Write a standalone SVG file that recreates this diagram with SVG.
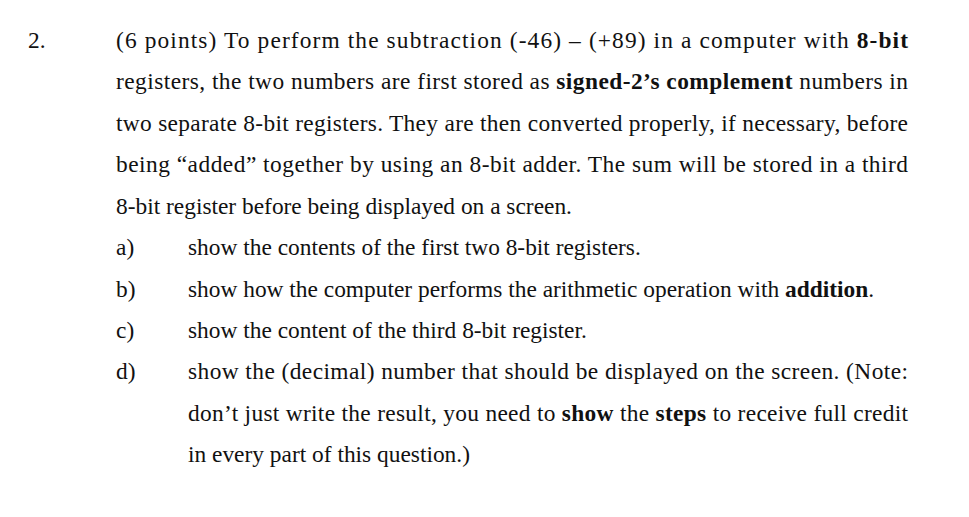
<svg xmlns="http://www.w3.org/2000/svg" width="969" height="517" viewBox="0 0 969 517">
<style>
text{font-family:"Liberation Serif","Times New Roman",serif;font-size:23.4px;fill:#111}
.b{font-weight:bold}
</style>
<rect width="969" height="517" fill="#fff"/>
<g id="question">
<text x="28" y="48">2.</text>
<text x="116" y="48" textLength="792" lengthAdjust="spacing">(6 points)  To perform the subtraction (-46) – (+89) in a computer with <tspan class="b">8-bit</tspan></text>
<text x="116" y="89" textLength="792" lengthAdjust="spacing">registers, the two numbers are first stored as <tspan class="b">signed-2’s complement</tspan> numbers in</text>
<text x="116" y="131" textLength="792" lengthAdjust="spacing">two separate 8-bit registers.  They are then converted properly, if necessary, before</text>
<text x="116" y="172" textLength="792" lengthAdjust="spacing">being “added” together by using an 8-bit adder.  The sum will be stored in a third</text>
<text x="116" y="214">8-bit register before being displayed on a screen.</text>
<text x="116" y="255">a)</text>
<text x="188" y="255">show the contents of the first two 8-bit registers.</text>
<text x="116" y="297">b)</text>
<text x="188" y="297">show how the computer performs the arithmetic operation with <tspan class="b">addition</tspan>.</text>
<text x="116" y="338">c)</text>
<text x="188" y="338">show the content of the third 8-bit register.</text>
<text x="116" y="379">d)</text>
<text x="188" y="379" textLength="720" lengthAdjust="spacing">show the (decimal) number that should be displayed on the screen.  (Note:</text>
<text x="188" y="421" textLength="720" lengthAdjust="spacing">don’t just write the result, you need to <tspan class="b">show</tspan> the <tspan class="b">steps</tspan> to receive full credit</text>
<text x="188" y="462">in every part of this question.)</text>
</g>
</svg>
